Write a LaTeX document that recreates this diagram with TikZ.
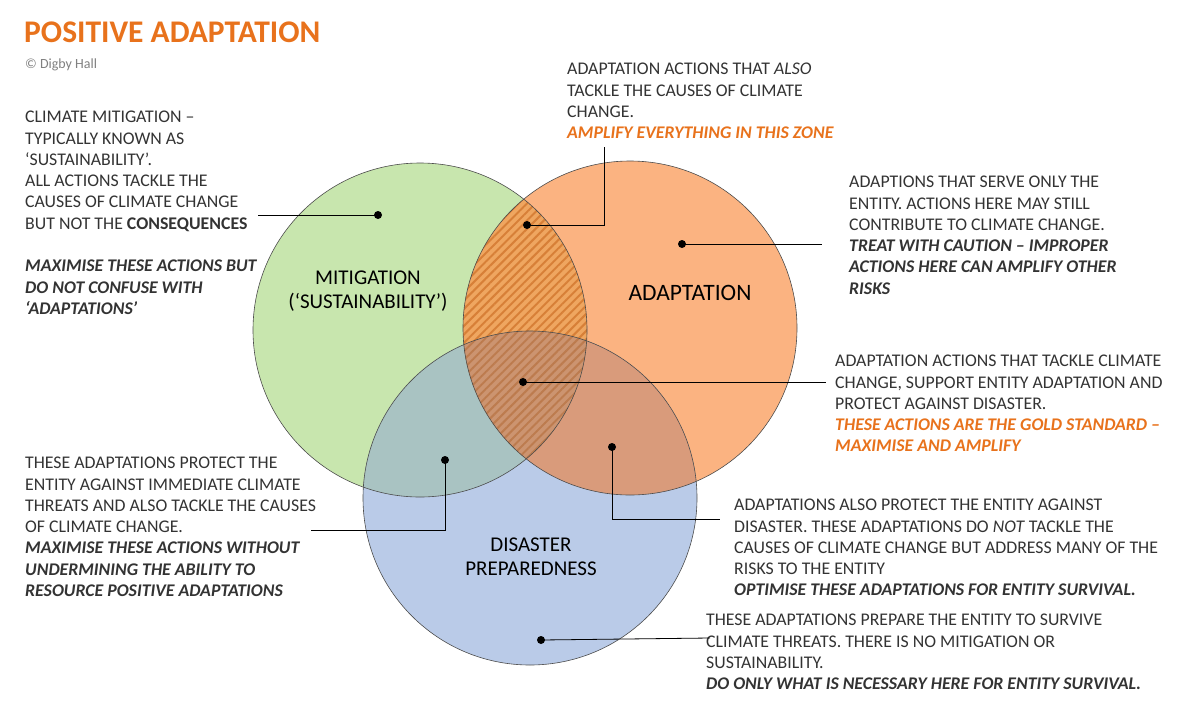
\documentclass[tikz,border=0pt]{standalone}
\usepackage{fontspec}
\setmainfont{Carlito}
\usetikzlibrary{patterns.meta}
\definecolor{cg}{HTML}{C8E6AE}
\definecolor{co}{HTML}{FBB381}
\definecolor{cb}{HTML}{BACBE8}
\definecolor{cgo}{HTML}{EFA660}
\definecolor{cgb}{HTML}{A9C3C2}
\definecolor{cob}{HTML}{D99B7B}
\definecolor{cgob}{HTML}{CC9470}
\definecolor{ttl}{HTML}{E8721C}
\definecolor{txt}{HTML}{333333}
\tikzset{
 txt/.style={anchor=north west,align=left,inner sep=0,font=\fontsize{17.8}{21.3}\selectfont,text=txt},
 lbl/.style={align=center,inner sep=0,font=\fontsize{21}{24}\selectfont,text=black},
 dot/.style={circle,fill=black,inner sep=0,minimum size=8pt},
 con/.style={draw=black,line width=0.8pt},
 ring/.style={draw=black!70,line width=0.6pt}
}
\newcommand{\oi}[1]{\textcolor{ttl}{\textbf{\textit{#1}}}}
\newcommand{\bi}[1]{\textbf{\textit{#1}}}
\begin{document}
\begin{tikzpicture}[x=1pt,y=-1pt]
\useasboundingbox (0,0) rectangle (1200,705);
\def\G{(420,330) circle (167)}
\def\O{(630,328) circle (167)}
\def\B{(530,498) circle (167)}
\fill[cg] \G; \fill[co] \O; \fill[cb] \B;
\begin{scope}\clip \G; \fill[cgb] \B; \end{scope}
\begin{scope}\clip \O; \fill[cob] \B; \end{scope}
\begin{scope}\clip \G; \fill[cgo] \O;
 \fill[pattern={Lines[angle=45,distance=6pt,line width=2pt]},pattern color=ttl!85!black,opacity=0.55] \O;
 \clip \O; \fill[cgob] \B;
 \fill[pattern={Lines[angle=45,distance=6pt,line width=2pt]},pattern color=ttl!70!black,opacity=0.35] \B;
\end{scope}
\draw[ring] \G; \draw[ring] \O; \draw[ring] \B;

\node[anchor=base west,inner sep=0,font=\fontsize{31.5}{34}\selectfont\bfseries,text=ttl] (title) at (24,42) {POSITIVE ADAPTATION};
\node[anchor=base west,inner sep=0,font=\fontsize{14}{16}\selectfont,text=black!50] (cr) at (25,68) {© Digby Hall};

\node[lbl] (lm) at (368,291) {MITIGATION\\(‘SUSTAINABILITY’)};
\node[lbl,font=\fontsize{23.5}{26}\selectfont] (la) at (690,293) {ADAPTATION};
\node[lbl] (ld) at (531,557) {DISASTER\\PREPAREDNESS};

\node[txt] (t1) at (25,111) {CLIMATE MITIGATION –\\TYPICALLY KNOWN AS\\‘SUSTAINABILITY’.\\ALL ACTIONS TACKLE THE\\CAUSES OF CLIMATE CHANGE\\BUT NOT THE \textbf{CONSEQUENCES}\\[21.3pt]\bi{MAXIMISE THESE ACTIONS BUT}\\\bi{DO NOT CONFUSE WITH}\\\bi{‘ADAPTATIONS’}};
\node[txt] (t2) at (567,63) {ADAPTATION ACTIONS THAT \textit{ALSO}\\TACKLE THE CAUSES OF CLIMATE\\CHANGE.\\\oi{AMPLIFY EVERYTHING IN THIS ZONE}};
\node[txt] (t3) at (849,176) {ADAPTIONS THAT SERVE ONLY THE\\ENTITY. ACTIONS HERE MAY STILL\\CONTRIBUTE TO CLIMATE CHANGE.\\\bi{TREAT WITH CAUTION – IMPROPER}\\\bi{ACTIONS HERE CAN AMPLIFY OTHER}\\\bi{RISKS}};
\node[txt] (t4) at (835,355) {ADAPTATION ACTIONS THAT TACKLE CLIMATE\\CHANGE, SUPPORT ENTITY ADAPTATION AND\\PROTECT AGAINST DISASTER.\\\oi{THESE ACTIONS ARE THE GOLD STANDARD –}\\\oi{MAXIMISE AND AMPLIFY}};
\node[txt] (t5) at (25,457) {THESE ADAPTATIONS PROTECT THE\\ENTITY AGAINST IMMEDIATE CLIMATE\\THREATS AND ALSO TACKLE THE CAUSES\\OF CLIMATE CHANGE.\\\bi{MAXIMISE THESE ACTIONS WITHOUT}\\\bi{UNDERMINING THE ABILITY TO}\\\bi{RESOURCE POSITIVE ADAPTATIONS}};
\node[txt] (t6) at (734,499) {ADAPTATIONS ALSO PROTECT THE ENTITY AGAINST\\DISASTER. THESE ADAPTATIONS DO \textit{NOT} TACKLE THE\\CAUSES OF CLIMATE CHANGE BUT ADDRESS MANY OF THE\\RISKS TO THE ENTITY\\\bi{OPTIMISE THESE ADAPTATIONS FOR ENTITY SURVIVAL.}};
\node[txt] (t7) at (706,614) {THESE ADAPTATIONS PREPARE THE ENTITY TO SURVIVE\\CLIMATE THREATS. THERE IS NO MITIGATION OR\\SUSTAINABILITY.\\\bi{DO ONLY WHAT IS NECESSARY HERE FOR ENTITY SURVIVAL.}};

\node[dot] (d1) at (378,215) {};
\node[dot] (d2) at (527,225) {};
\node[dot] (d3) at (682,244) {};
\node[dot] (d4) at (523,382) {};
\node[dot] (d5) at (445,460) {};
\node[dot] (d6) at (612,447) {};
\node[dot] (d7) at (541,640) {};
\coordinate (e1) at (258,215);
\coordinate (e2) at (604,147);
\coordinate (e3) at (822,244);
\coordinate (e4) at (826,382);
\coordinate (e5) at (311,530);
\coordinate (e6) at (720,519);
\coordinate (e7) at (710,638);
\draw[con] (d1.center) -- (e1);
\draw[con] (d2.center) -| (e2);
\draw[con] (d3.center) -- (e3);
\draw[con] (d4.center) -- (e4);
\draw[con] (d5.center) |- (e5);
\draw[con] (d6.center) |- (e6);
\draw[con] (d7.center) -- (e7);
\end{tikzpicture}
\end{document}
